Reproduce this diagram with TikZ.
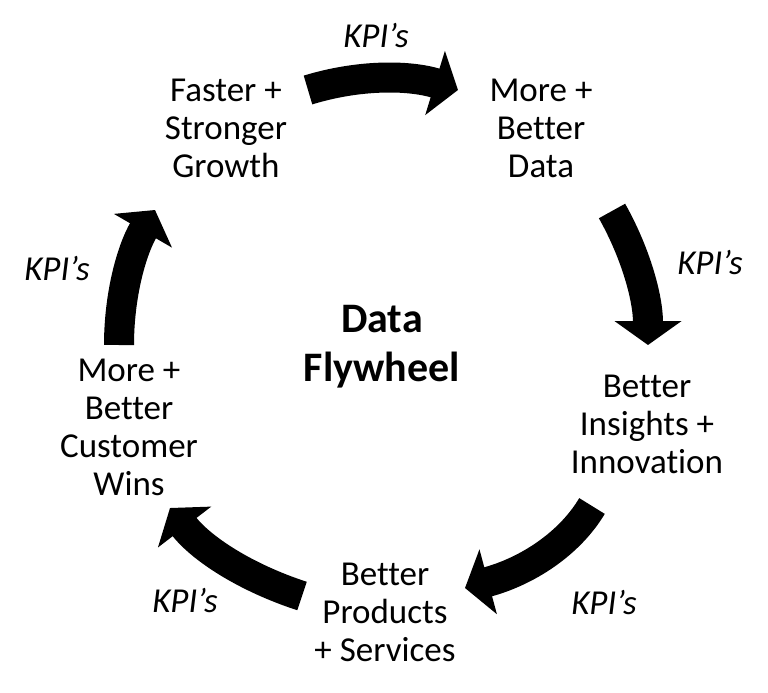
\documentclass[tikz,border=0pt]{standalone}
\usepackage{fontspec}
\setmainfont{Carlito}[Ligatures={NoCommon,NoContextual,NoRare},Contextuals=NoAlternate]
\usetikzlibrary{arrows.meta,calc}
\begin{document}
\begin{tikzpicture}[x=1pt,y=-1pt,
  lbl/.style={font=\fontsize{35}{38}\selectfont, align=center, inner sep=0pt},
  kpi/.style={font=\fontsize{35}{38}\selectfont\itshape, inner sep=0pt},
  hubtext/.style={font=\fontsize{42}{49}\selectfont\bfseries, align=center, inner sep=0pt},
  flow/.style={line width=30pt, -{Triangle[length=24pt,width=66pt]}}]
\useasboundingbox[fill=white] (0,0) rectangle (768,693);

% stage labels
\node[lbl] (growth)   at (226,128) {Faster +\\Stronger\\Growth};
\node[lbl] (data)     at (541,128) {More +\\Better\\Data};
\node[lbl] (insights) at (647,424) {Better\\Insights +\\Innovation};
\node[lbl] (products) at (385,612) {Better\\Products\\+ Services};
\node[lbl] (wins)     at (129,427) {More +\\Better\\Customer\\Wins};
\node[hubtext] (hub)  at (382,347) {Data\\Flywheel};

% KPI labels
\node[kpi] (k1) at (376,35)  {KPI’s};
\node[kpi] (k2) at (710,262) {KPI’s};
\node[kpi] (k3) at (604,602) {KPI’s};
\node[kpi] (k4) at (185,600) {KPI’s};
\node[kpi] (k5) at (57,268)  {KPI’s};

% arrow geometry (start, quadratic control, tip)
\coordinate (a1s) at (308,90);  \coordinate (a1c) at (383,67);  \coordinate (a1e) at (458,90);
\coordinate (a2s) at (612,211); \coordinate (a2c) at (648,275); \coordinate (a2e) at (648,345);
\coordinate (a3s) at (592,506); \coordinate (a3c) at (558,563); \coordinate (a3e) at (465,588);
\coordinate (a4s) at (302,596); \coordinate (a4c) at (216,568); \coordinate (a4e) at (170,508);
\coordinate (a5s) at (119,345); \coordinate (a5c) at (119,272); \coordinate (a5e) at (155,210);

\foreach \i in {1,...,5}{
  \draw[flow] (a\i s) .. controls ($(a\i s)!2/3!(a\i c)$) and ($(a\i e)!2/3!(a\i c)$) .. (a\i e);
}
\end{tikzpicture}
\end{document}
